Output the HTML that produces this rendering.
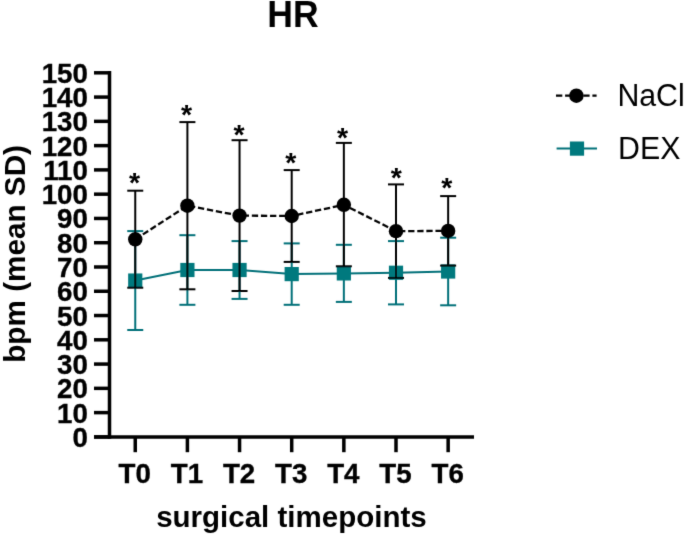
<!DOCTYPE html>
<html><head><meta charset="utf-8"><title>HR</title>
<style>
html,body{margin:0;padding:0;background:#fff;}
body{width:685px;height:539px;overflow:hidden;}
svg{display:block;}
text{font-family:"Liberation Sans",sans-serif;fill:#000;}
.yt{font-size:27.7px;font-weight:bold;text-anchor:end;stroke:#000;stroke-width:0.35px;}
.xt{font-size:27.7px;font-weight:bold;text-anchor:middle;stroke:#000;stroke-width:0.35px;}
.ast{font-size:28.5px;font-weight:bold;text-anchor:middle;}
.title{font-size:35.6px;font-weight:bold;text-anchor:middle;}
.xlab{font-size:29.5px;font-weight:bold;text-anchor:middle;}
.ylab{font-size:29.7px;font-weight:bold;text-anchor:middle;}
.leg{font-size:30.3px;}
</style></head>
<body><svg width="685" height="539" viewBox="0 0 685 539">
<defs><filter id="bl" x="0" y="0" width="685" height="539" filterUnits="userSpaceOnUse"><feConvolveMatrix order="3" kernelMatrix="0.01134 0.08382 0.01134 0.08382 0.61935 0.08382 0.01134 0.08382 0.01134" edgeMode="none"/></filter></defs>
<rect width="685" height="539" fill="#fff"/>
<g filter="url(#bl)">
<line x1="109.5" y1="71.05" x2="109.5" y2="438.65" stroke="#000" stroke-width="3.5"/>
<line x1="94" y1="436.90" x2="109.5" y2="436.90" stroke="#000" stroke-width="3.5"/>
<text transform="translate(87.9 446.90) scale(1 1.0)" class="yt">0</text>
<line x1="94" y1="412.63" x2="109.5" y2="412.63" stroke="#000" stroke-width="3.5"/>
<text transform="translate(87.9 422.63) scale(1 1.0)" class="yt">10</text>
<line x1="94" y1="388.35" x2="109.5" y2="388.35" stroke="#000" stroke-width="3.5"/>
<text transform="translate(87.9 398.35) scale(1 1.0)" class="yt">20</text>
<line x1="94" y1="364.08" x2="109.5" y2="364.08" stroke="#000" stroke-width="3.5"/>
<text transform="translate(87.9 374.08) scale(1 1.0)" class="yt">30</text>
<line x1="94" y1="339.81" x2="109.5" y2="339.81" stroke="#000" stroke-width="3.5"/>
<text transform="translate(87.9 349.81) scale(1 1.0)" class="yt">40</text>
<line x1="94" y1="315.53" x2="109.5" y2="315.53" stroke="#000" stroke-width="3.5"/>
<text transform="translate(87.9 325.53) scale(1 1.0)" class="yt">50</text>
<line x1="94" y1="291.26" x2="109.5" y2="291.26" stroke="#000" stroke-width="3.5"/>
<text transform="translate(87.9 301.26) scale(1 1.0)" class="yt">60</text>
<line x1="94" y1="266.99" x2="109.5" y2="266.99" stroke="#000" stroke-width="3.5"/>
<text transform="translate(87.9 276.99) scale(1 1.0)" class="yt">70</text>
<line x1="94" y1="242.72" x2="109.5" y2="242.72" stroke="#000" stroke-width="3.5"/>
<text transform="translate(87.9 252.72) scale(1 1.0)" class="yt">80</text>
<line x1="94" y1="218.44" x2="109.5" y2="218.44" stroke="#000" stroke-width="3.5"/>
<text transform="translate(87.9 228.44) scale(1 1.0)" class="yt">90</text>
<line x1="94" y1="194.17" x2="109.5" y2="194.17" stroke="#000" stroke-width="3.5"/>
<text transform="translate(87.9 204.17) scale(1 1.0)" class="yt">100</text>
<line x1="94" y1="169.90" x2="109.5" y2="169.90" stroke="#000" stroke-width="3.5"/>
<text transform="translate(87.9 179.90) scale(1 1.0)" class="yt">110</text>
<line x1="94" y1="145.62" x2="109.5" y2="145.62" stroke="#000" stroke-width="3.5"/>
<text transform="translate(87.9 155.62) scale(1 1.0)" class="yt">120</text>
<line x1="94" y1="121.35" x2="109.5" y2="121.35" stroke="#000" stroke-width="3.5"/>
<text transform="translate(87.9 131.35) scale(1 1.0)" class="yt">130</text>
<line x1="94" y1="97.08" x2="109.5" y2="97.08" stroke="#000" stroke-width="3.5"/>
<text transform="translate(87.9 107.08) scale(1 1.0)" class="yt">140</text>
<line x1="94" y1="72.81" x2="109.5" y2="72.81" stroke="#000" stroke-width="3.5"/>
<text transform="translate(87.9 82.81) scale(1 1.0)" class="yt">150</text>
<line x1="94" y1="436.90" x2="474" y2="436.90" stroke="#000" stroke-width="3.5"/>
<line x1="135.25" y1="436.90" x2="135.25" y2="452.2" stroke="#000" stroke-width="3.5"/>
<text transform="translate(134.75 483.2) scale(1 1.0)" class="xt">T0</text>
<line x1="187.40" y1="436.90" x2="187.40" y2="452.2" stroke="#000" stroke-width="3.5"/>
<text transform="translate(186.90 483.2) scale(1 1.0)" class="xt">T1</text>
<line x1="239.55" y1="436.90" x2="239.55" y2="452.2" stroke="#000" stroke-width="3.5"/>
<text transform="translate(239.05 483.2) scale(1 1.0)" class="xt">T2</text>
<line x1="291.70" y1="436.90" x2="291.70" y2="452.2" stroke="#000" stroke-width="3.5"/>
<text transform="translate(291.20 483.2) scale(1 1.0)" class="xt">T3</text>
<line x1="343.85" y1="436.90" x2="343.85" y2="452.2" stroke="#000" stroke-width="3.5"/>
<text transform="translate(343.35 483.2) scale(1 1.0)" class="xt">T4</text>
<line x1="396.00" y1="436.90" x2="396.00" y2="452.2" stroke="#000" stroke-width="3.5"/>
<text transform="translate(395.50 483.2) scale(1 1.0)" class="xt">T5</text>
<line x1="448.15" y1="436.90" x2="448.15" y2="452.2" stroke="#000" stroke-width="3.5"/>
<text transform="translate(447.65 483.2) scale(1 1.0)" class="xt">T6</text>
<line x1="135.25" y1="231.10" x2="135.25" y2="330.00" stroke="#067078" stroke-width="2.0"/><line x1="127.25" y1="231.10" x2="143.25" y2="231.10" stroke="#067078" stroke-width="2.0"/><line x1="127.25" y1="330.00" x2="143.25" y2="330.00" stroke="#067078" stroke-width="2.0"/>
<line x1="187.40" y1="235.20" x2="187.40" y2="304.80" stroke="#067078" stroke-width="2.0"/><line x1="179.40" y1="235.20" x2="195.40" y2="235.20" stroke="#067078" stroke-width="2.0"/><line x1="179.40" y1="304.80" x2="195.40" y2="304.80" stroke="#067078" stroke-width="2.0"/>
<line x1="239.55" y1="241.10" x2="239.55" y2="298.90" stroke="#067078" stroke-width="2.0"/><line x1="231.55" y1="241.10" x2="247.55" y2="241.10" stroke="#067078" stroke-width="2.0"/><line x1="231.55" y1="298.90" x2="247.55" y2="298.90" stroke="#067078" stroke-width="2.0"/>
<line x1="291.70" y1="243.40" x2="291.70" y2="304.80" stroke="#067078" stroke-width="2.0"/><line x1="283.70" y1="243.40" x2="299.70" y2="243.40" stroke="#067078" stroke-width="2.0"/><line x1="283.70" y1="304.80" x2="299.70" y2="304.80" stroke="#067078" stroke-width="2.0"/>
<line x1="343.85" y1="244.80" x2="343.85" y2="301.90" stroke="#067078" stroke-width="2.0"/><line x1="335.85" y1="244.80" x2="351.85" y2="244.80" stroke="#067078" stroke-width="2.0"/><line x1="335.85" y1="301.90" x2="351.85" y2="301.90" stroke="#067078" stroke-width="2.0"/>
<line x1="396.00" y1="241.10" x2="396.00" y2="304.40" stroke="#067078" stroke-width="2.0"/><line x1="388.00" y1="241.10" x2="404.00" y2="241.10" stroke="#067078" stroke-width="2.0"/><line x1="388.00" y1="304.40" x2="404.00" y2="304.40" stroke="#067078" stroke-width="2.0"/>
<line x1="448.15" y1="237.70" x2="448.15" y2="305.30" stroke="#067078" stroke-width="2.0"/><line x1="440.15" y1="237.70" x2="456.15" y2="237.70" stroke="#067078" stroke-width="2.0"/><line x1="440.15" y1="305.30" x2="456.15" y2="305.30" stroke="#067078" stroke-width="2.0"/>
<polyline fill="none" stroke="#067078" stroke-width="2.0" points="135.25,280.55 187.40,270.00 239.55,270.00 291.70,274.10 343.85,273.40 396.00,272.75 448.15,271.50"/>
<rect x="128.15" y="273.45" width="14.2" height="14.2" fill="#02797e"/>
<rect x="180.30" y="262.90" width="14.2" height="14.2" fill="#02797e"/>
<rect x="232.45" y="262.90" width="14.2" height="14.2" fill="#02797e"/>
<rect x="284.60" y="267.00" width="14.2" height="14.2" fill="#02797e"/>
<rect x="336.75" y="266.30" width="14.2" height="14.2" fill="#02797e"/>
<rect x="388.90" y="265.65" width="14.2" height="14.2" fill="#02797e"/>
<rect x="441.05" y="264.40" width="14.2" height="14.2" fill="#02797e"/>
<line x1="135.25" y1="190.70" x2="135.25" y2="287.70" stroke="#000" stroke-width="2.0"/><line x1="127.25" y1="190.70" x2="143.25" y2="190.70" stroke="#000" stroke-width="2.0"/><line x1="127.25" y1="287.70" x2="143.25" y2="287.70" stroke="#000" stroke-width="2.0"/>
<line x1="187.40" y1="122.10" x2="187.40" y2="289.30" stroke="#000" stroke-width="2.0"/><line x1="179.40" y1="122.10" x2="195.40" y2="122.10" stroke="#000" stroke-width="2.0"/><line x1="179.40" y1="289.30" x2="195.40" y2="289.30" stroke="#000" stroke-width="2.0"/>
<line x1="239.55" y1="140.20" x2="239.55" y2="291.00" stroke="#000" stroke-width="2.0"/><line x1="231.55" y1="140.20" x2="247.55" y2="140.20" stroke="#000" stroke-width="2.0"/><line x1="231.55" y1="291.00" x2="247.55" y2="291.00" stroke="#000" stroke-width="2.0"/>
<line x1="291.70" y1="170.10" x2="291.70" y2="261.90" stroke="#000" stroke-width="2.0"/><line x1="283.70" y1="170.10" x2="299.70" y2="170.10" stroke="#000" stroke-width="2.0"/><line x1="283.70" y1="261.90" x2="299.70" y2="261.90" stroke="#000" stroke-width="2.0"/>
<line x1="343.85" y1="142.90" x2="343.85" y2="266.30" stroke="#000" stroke-width="2.0"/><line x1="335.85" y1="142.90" x2="351.85" y2="142.90" stroke="#000" stroke-width="2.0"/><line x1="335.85" y1="266.30" x2="351.85" y2="266.30" stroke="#000" stroke-width="2.0"/>
<line x1="396.00" y1="184.40" x2="396.00" y2="277.90" stroke="#000" stroke-width="2.0"/><line x1="388.00" y1="184.40" x2="404.00" y2="184.40" stroke="#000" stroke-width="2.0"/><line x1="388.00" y1="277.90" x2="404.00" y2="277.90" stroke="#000" stroke-width="2.0"/>
<line x1="448.15" y1="196.10" x2="448.15" y2="265.60" stroke="#000" stroke-width="2.0"/><line x1="440.15" y1="196.10" x2="456.15" y2="196.10" stroke="#000" stroke-width="2.0"/><line x1="440.15" y1="265.60" x2="456.15" y2="265.60" stroke="#000" stroke-width="2.0"/>
<polyline fill="none" stroke="#000" stroke-width="2.3" stroke-dasharray="6.3 2.8" points="135.25,239.30 187.40,205.70 239.55,215.60 291.70,216.00 343.85,204.80 396.00,231.15 448.15,230.90"/>
<circle cx="135.25" cy="239.30" r="7.2" fill="#000"/>
<circle cx="187.40" cy="205.70" r="7.2" fill="#000"/>
<circle cx="239.55" cy="215.60" r="7.2" fill="#000"/>
<circle cx="291.70" cy="216.00" r="7.2" fill="#000"/>
<circle cx="343.85" cy="204.80" r="7.2" fill="#000"/>
<circle cx="396.00" cy="231.15" r="7.2" fill="#000"/>
<circle cx="448.15" cy="230.90" r="7.2" fill="#000"/>
<text x="134.45" y="192.10" class="ast">*</text>
<text x="186.45" y="124.30" class="ast">*</text>
<text x="239.00" y="144.00" class="ast">*</text>
<text x="290.80" y="172.40" class="ast">*</text>
<text x="342.60" y="147.30" class="ast">*</text>
<text x="396.30" y="187.00" class="ast">*</text>
<text x="446.90" y="197.20" class="ast">*</text>
<line x1="556" y1="95.7" x2="596.6" y2="95.7" stroke="#000" stroke-width="2.3" stroke-dasharray="6.3 2.8"/>
<circle cx="576.4" cy="95.7" r="7.2" fill="#000"/>
<text transform="translate(617.4 105.6) scale(1 1.05)" class="leg">NaCl</text>
<line x1="556.6" y1="148.6" x2="597" y2="148.6" stroke="#067078" stroke-width="2.0"/>
<rect x="569.90" y="141.50" width="14.2" height="14.2" fill="#02797e"/>
<text transform="translate(618.1 158.7) scale(1 1.05)" class="leg">DEX</text>
<text transform="translate(293 27) scale(1 1.035)" class="title">HR</text>
<text x="291.4" y="526.7" class="xlab">surgical timepoints</text>
<text transform="translate(25.3 253.9) rotate(-90)" x="0" y="0" class="ylab">bpm (mean SD)</text>
</g>
</svg></body></html>
